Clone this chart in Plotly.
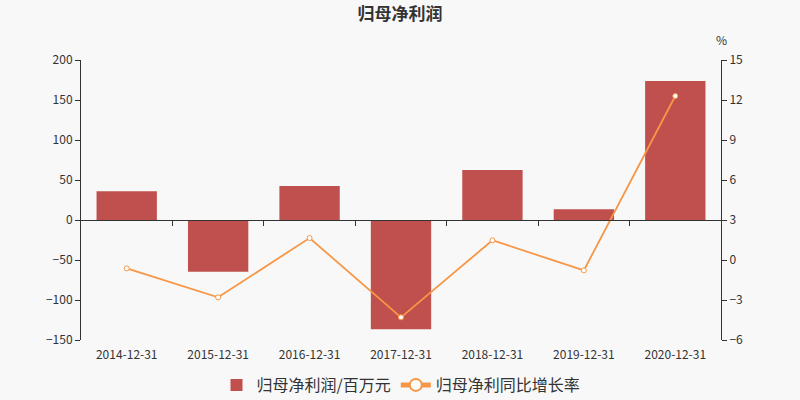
import plotly.graph_objects as go

categories = ["2014-12-31", "2015-12-31", "2016-12-31", "2017-12-31",
              "2018-12-31", "2019-12-31", "2020-12-31"]
net_profit = [36.0, -64.6, 42.5, -136.7, 62.5, 13.3, 173.7]
growth_rate = [-0.63, -2.8, 1.65, -4.3, 1.48, -0.78, 12.3]
left_ticks = [-150, -100, -50, 0, 50, 100, 150, 200]
right_ticks = [-6, -3, 0, 3, 6, 9, 12, 15]

FONT = "Noto Sans CJK SC, DejaVu Sans, sans-serif"
BAR_C = "#c0504d"
LINE_C = "#f79646"

xs = list(range(len(categories)))
boundaries = [i + 0.5 for i in xs[:-1]]

fig = go.Figure()
fig.add_trace(go.Bar(
    x=xs, y=net_profit, name="归母净利润/百万元",
    marker=dict(color=BAR_C, line=dict(width=0)),
    width=0.66, yaxis="y", xaxis="x",
))
fig.add_trace(go.Scatter(
    x=xs, y=growth_rate, name="归母净利同比增长率",
    mode="lines+markers",
    line=dict(color=LINE_C, width=1.8),
    marker=dict(symbol="circle", size=5, color="white",
                line=dict(color=LINE_C, width=1)),
    yaxis="y2", xaxis="x",
))
# invisible helper so the zero-line category axis is drawn
fig.add_trace(go.Scatter(x=[xs[0]], y=[0], xaxis="x2", yaxis="y",
                         mode="markers", marker=dict(opacity=0),
                         showlegend=False, hoverinfo="skip"))

fig.update_layout(
    width=800, height=400, autosize=False,
    paper_bgcolor="#f8f8f8", plot_bgcolor="#f8f8f8",
    margin=dict(l=81, r=79, t=60, b=60, autoexpand=False),
    font=dict(family=FONT, size=12, color="#333333"),
    title=dict(text="<b>归母净利润</b>", x=0.5, xanchor="center",
               y=1 - 14 / 400, yanchor="middle",
               font=dict(size=17, color="#333333", family=FONT)),
    showlegend=True,
    legend=dict(orientation="h", x=0.5, xanchor="center",
                yref="container", y=15 / 400, yanchor="middle",
                font=dict(size=16, color="#333333"),
                bgcolor="rgba(0,0,0,0)", itemsizing="constant"),
    xaxis=dict(
        range=[-0.5, len(categories) - 0.5],
        tickvals=xs, ticktext=categories, automargin=False,
        showline=False, showgrid=False, zeroline=False,
        ticks="", ticklabelstandoff=6,
        tickfont=dict(size=12, color="#333333"),
    ),
    xaxis2=dict(
        overlaying="x", anchor="free",
        position=120 / 280, automargin=False,
        range=[-0.5, len(categories) - 0.5],
        tickvals=boundaries, ticktext=["" for _ in boundaries],
        showline=True, linecolor="#333333", linewidth=1,
        ticks="outside", ticklen=5, tickcolor="#333333",
        showgrid=False, zeroline=False, showticklabels=False,
    ),
    yaxis=dict(
        range=[-150, 200], tickvals=left_ticks, automargin=False,
        showline=True, linecolor="#333333", linewidth=1,
        ticks="outside", ticklen=5, tickcolor="#333333",
        showgrid=False, zeroline=False,
        tickfont=dict(size=12, color="#333333"),
    ),
    yaxis2=dict(
        range=[-6, 15], tickvals=right_ticks, automargin=False,
        overlaying="y", side="right", anchor="x",
        showline=True, linecolor="#333333", linewidth=1,
        ticks="outside", ticklen=5, tickcolor="#333333",
        showgrid=False, zeroline=False,
        tickfont=dict(size=12, color="#333333"),
    ),
    annotations=[dict(text="%", xref="paper", yref="paper", x=1.0, y=1.075,
                      xanchor="center", yanchor="middle", showarrow=False,
                      font=dict(size=12, color="#333333"))],
)

fig.write_html("out.html", config={"displayModeBar": False},
               post_script="document.body.style.margin='0';document.body.style.overflow='hidden';")
